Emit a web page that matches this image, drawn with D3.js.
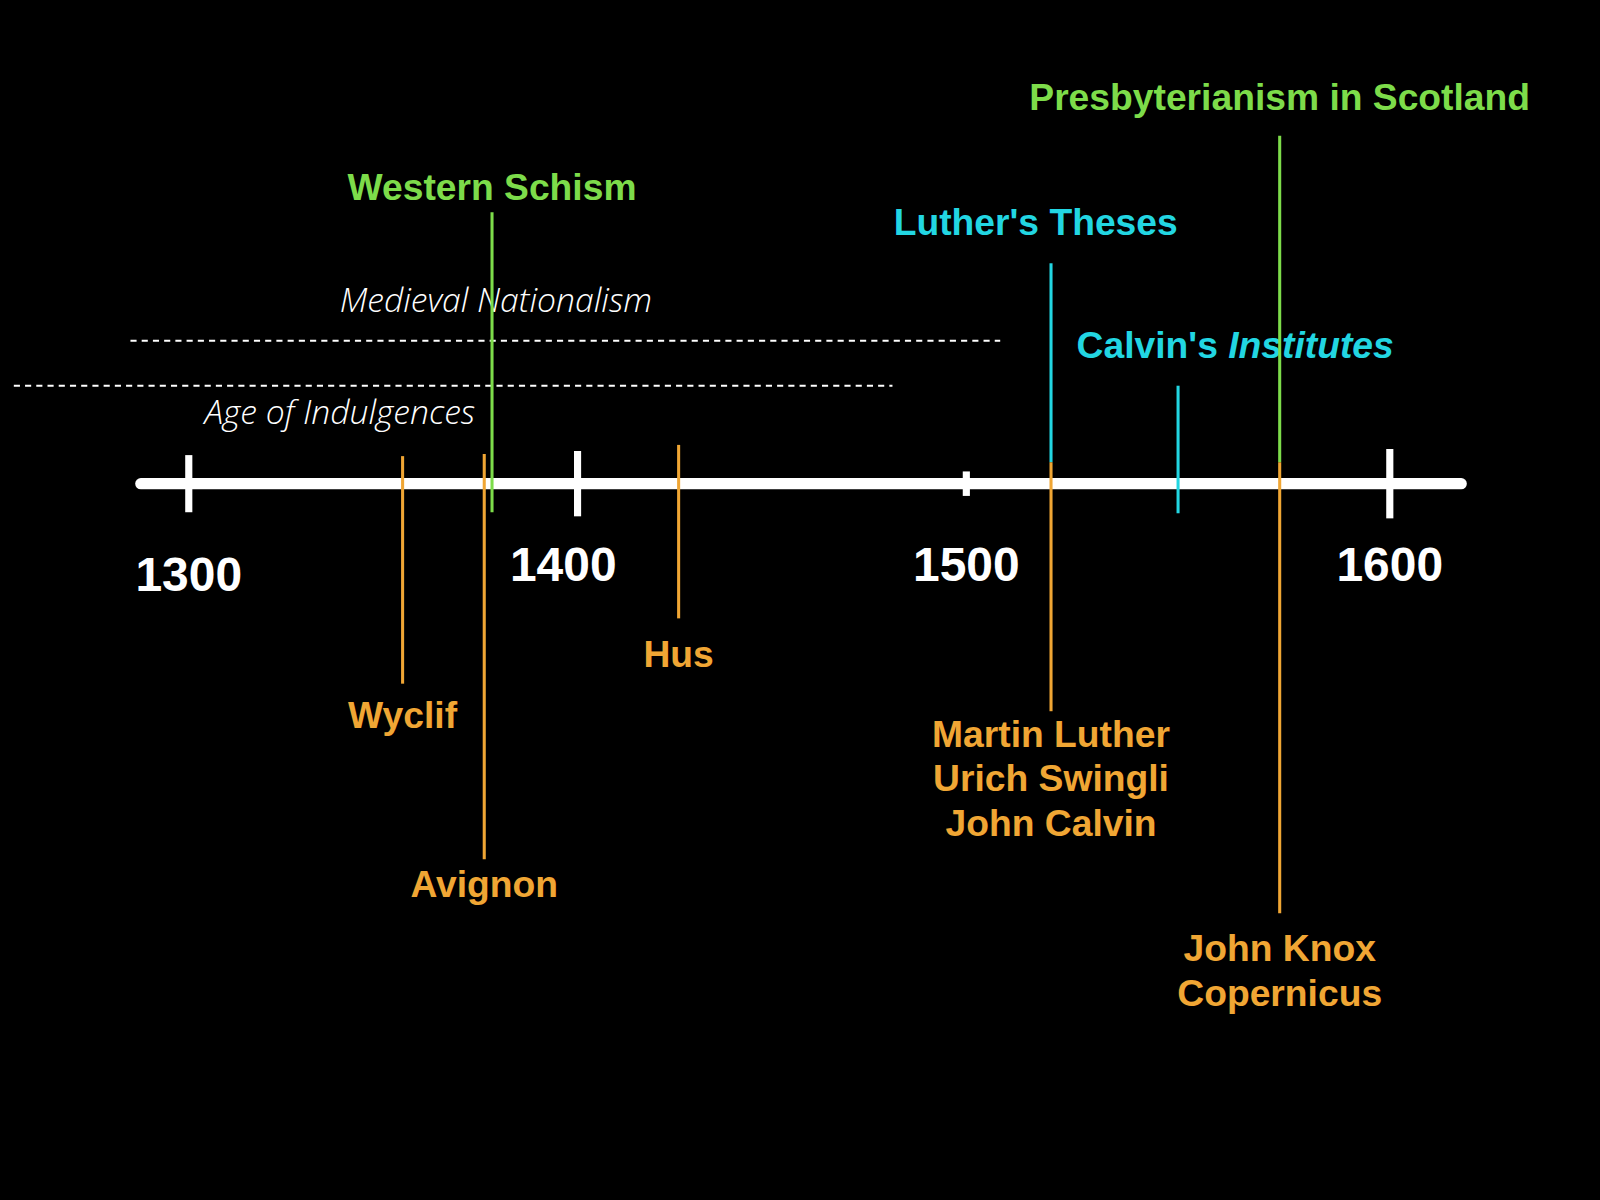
<!DOCTYPE html>
<html><head><meta charset="utf-8">
<script src="https://cdn.jsdelivr.net/npm/d3@7"></script>
<style>body{margin:0;background:#000}svg{display:block}</style></head>
<body><script>
const centuries=[1300,1400,1500,1600];
const centuryLabelDy=[93,83,83,83];
const eventNames=["Wyclif","Avignon","Western Schism","Hus","Luther's Theses","Martin Luther|Urich Swingli|John Calvin","Calvin's Institutes","Presbyterianism in Scotland","John Knox|Copernicus"];
const eventYears=[1355,1376,1378,1426,1520,1520,1550,1574,1574];
const eventKinds=["person","person","event","person","doc","person","doc","event","person"];
const eventTop=[447,445,208,436,258,453,378,133,453];
const eventBottom=[670,842,502,606,453,697,503,453,895];
const eras=["Medieval Nationalism","Age of Indulgences"];
const eraStart=[1285,1255];
const eraEnd=[1508,1481];

const colors={person:"#f0a634",event:"#7ddc4a",doc:"#22d6e2"};
const W=1600,H=1200,k=1600/1568;
const svg=d3.select("body").append("svg").attr("width",W).attr("height",H).style("background","#000");
const g=svg.append("g").attr("transform",`scale(${k})`);
const x=d3.scaleLinear().domain([1300,1400,1500,1600]).range([185,566,947,1362]);
const axisY=474;
const font="'Liberation Sans',Arial,Helvetica,sans-serif";

const eraY=[334,378], eraLabelY=[297,407], eraLabelX=[486,333];
eras.forEach((e,i)=>{
  g.append("line").attr("x1",x(eraStart[i])).attr("x2",x(eraEnd[i])).attr("y1",eraY[i]).attr("y2",eraY[i])
   .attr("stroke","#fff").attr("stroke-width",2).attr("stroke-dasharray","6,5");
  g.append("text").attr("x",eraLabelX[i]).attr("y",eraLabelY[i]).attr("text-anchor","middle")
   .attr("fill","#fff").attr("font-family","'Open Sans',sans-serif").attr("font-weight",300)
   .attr("font-style","italic").attr("font-size",33).attr("dominant-baseline","middle").text(e);
});

g.append("line").attr("x1",138).attr("x2",1432).attr("y1",axisY).attr("y2",axisY)
 .attr("stroke","#fff").attr("stroke-width",11).attr("stroke-linecap","round");
const tickH=[28,32,12,34];
centuries.forEach((c,i)=>{
  g.append("line").attr("x1",x(c)).attr("x2",x(c)).attr("y1",axisY-tickH[i]).attr("y2",axisY+tickH[i])
   .attr("stroke","#fff").attr("stroke-width",7);
  g.append("text").attr("x",x(c)-(i==1?14:0)).attr("y",axisY+centuryLabelDy[i]).attr("text-anchor","middle")
   .attr("dominant-baseline","middle").attr("fill","#fff").attr("font-family",font).attr("font-weight","bold")
   .attr("font-size",47).text(c);
});

eventNames.forEach((n,i)=>{
  const xx=x(eventYears[i]), col=colors[eventKinds[i]];
  g.append("line").attr("x1",xx).attr("x2",xx).attr("y1",eventTop[i]).attr("y2",eventBottom[i])
   .attr("stroke",col).attr("stroke-width",3);
  const lines=n.split("|");
  const above=eventKinds[i]!=="person";
  let ly = above ? eventTop[i]-(i==4?37:i==6?37:i==7?35:22) : eventBottom[i]+(i==5?25:i==8?37:i==1?27:i==3?38:34);
  let lx = xx + (i==4?-15:i==6?56:0);
  const t=g.append("text").attr("x",lx).attr("text-anchor","middle").attr("fill",col)
   .attr("font-family",font).attr("font-weight","bold").attr("font-size",36.5);
  lines.forEach((l,j)=>{
    const ts=t.append("tspan").attr("x",lx).attr("y",ly+j*44).attr("dominant-baseline","middle");
    if(l==="Calvin's Institutes"){ts.text("Calvin's ");ts.append("tspan").attr("font-style","italic").text("Institutes");}
    else ts.text(l);
  });
});
</script></body></html>
